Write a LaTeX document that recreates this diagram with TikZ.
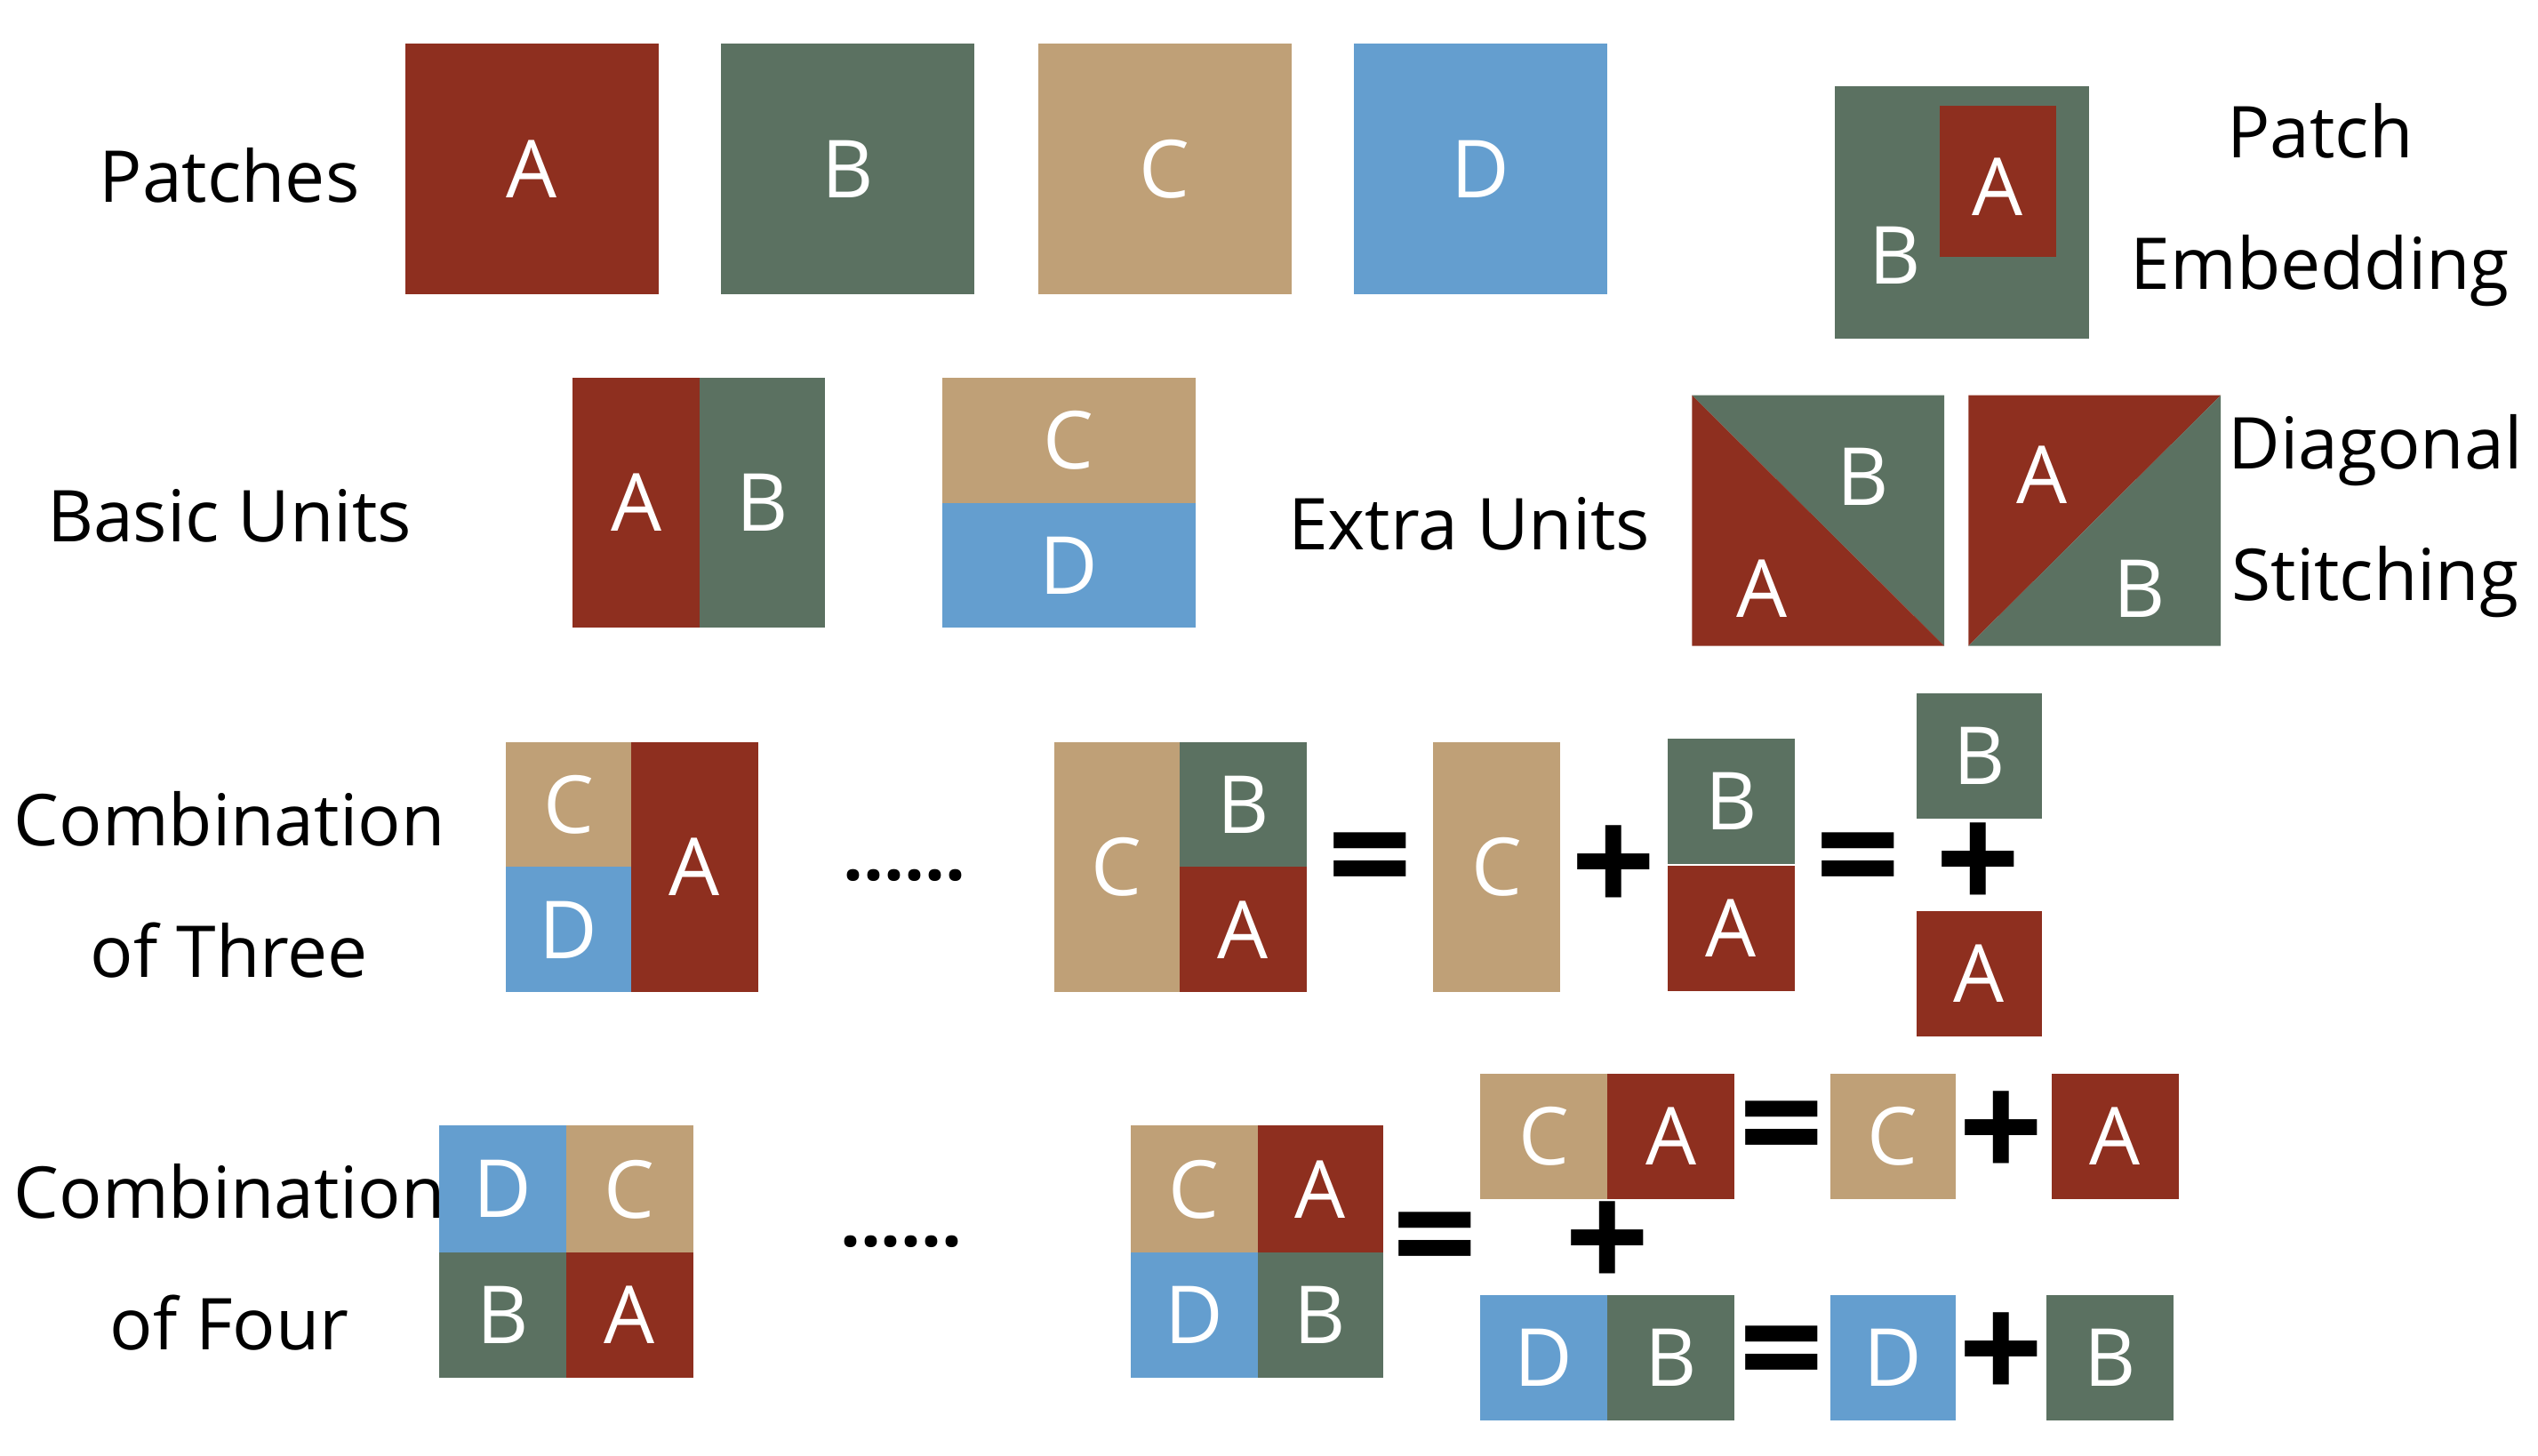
\documentclass[tikz,border=0pt]{standalone}
\usepackage{fontspec}
\setmainfont{Open Sans}
\definecolor{cA}{HTML}{8E2F1F}
\definecolor{cB}{HTML}{5B7161}
\definecolor{cC}{HTML}{BFA077}
\definecolor{cD}{HTML}{649ECF}
\tikzset{lbl/.style={text=white,font=\fontsize{14}{16}\selectfont,inner sep=0pt},
 txt/.style={font=\fontsize{12.5}{15}\selectfont,inner sep=0pt,align=center},
 op/.style={font=\fontsize{26}{28}\bfseries\selectfont,inner sep=0pt}}
\newcommand{\bx}[6]{\fill[#5] (#1,#2) rectangle (#3,#4) node[midway,lbl]{#6};}
\begin{document}
\begin{tikzpicture}[x=0.01cm,y=-0.01cm]
\useasboundingbox (0,0) rectangle (1560,894.5);
% row 1
\node[txt] (p) at (141,108) {Patches};
\bx{249}{27}{405}{181}{cA}{A}
\bx{443}{27}{599}{181}{cB}{B}
\bx{638}{27}{794}{181}{cC}{C}
\bx{832}{27}{988}{181}{cD}{D}
\fill[cB] (1128,53) rectangle (1284,208);
\fill[cA] (1192,65) rectangle (1264,158);
\node[lbl] at (1228,115) {A};
\node[lbl] at (1165,157) {B};
\node[txt] (pe) at (1426,126) {Patch\\[8pt]Embedding};
% row 2
\node[txt] (bu) at (141,317) {Basic Units};
\bx{352}{232}{430}{386}{cA}{A}
\bx{430}{232}{507}{386}{cB}{B}
\bx{579}{232}{735}{309}{cC}{C}
\bx{579}{309}{735}{386}{cD}{D}
\node[txt] (eu) at (903,322) {Extra Units};
\fill[cB] (1040,243) -- (1195,243) -- (1195,397) -- cycle;
\fill[cA] (1040,243) -- (1195,397) -- (1040,397) -- cycle;
\node[lbl] at (1145,293) {B};
\node[lbl] at (1083,362) {A};
\fill[cA] (1210,243) -- (1365,243) -- (1210,397) -- cycle;
\fill[cB] (1365,243) -- (1365,397) -- (1210,397) -- cycle;
\node[lbl] at (1255,292) {A};
\node[lbl] at (1315,362) {B};
\node[txt] (ds) at (1460,317) {Diagonal\\[8pt]Stitching};
% row 3
\node[txt] (c3) at (141,544) {Combination\\[8pt]of Three};
\bx{311}{456}{388}{533}{cC}{C}
\bx{311}{533}{388}{610}{cD}{D}
\bx{388}{456}{466}{610}{cA}{A}
\node[txt] (d1) at (556,538) {\textbf{......}};
\bx{648}{456}{725}{610}{cC}{C}
\bx{725}{456}{803}{533}{cB}{B}
\bx{725}{533}{803}{610}{cA}{A}
\node[op] at (842,535) {=};
\bx{881}{456}{959}{610}{cC}{C}
\node[op] at (992,535) {+};
\bx{1025}{454}{1103}{531}{cB}{B}
\bx{1025}{532}{1103}{609}{cA}{A}
\node[op] at (1142,535) {=};
\bx{1178}{426}{1255}{503}{cB}{B}
\node[op] at (1216,533) {+};
\bx{1178}{560}{1255}{637}{cA}{A}
% row 4
\node[txt] (c4) at (141,773) {Combination\\[8pt]of Four};
\bx{270}{692}{348}{770}{cD}{D}
\bx{348}{692}{426}{770}{cC}{C}
\bx{270}{770}{348}{847}{cB}{B}
\bx{348}{770}{426}{847}{cA}{A}
\node[txt] (d2) at (554,763) {\textbf{......}};
\bx{695}{692}{773}{770}{cC}{C}
\bx{773}{692}{850}{770}{cA}{A}
\bx{695}{770}{773}{847}{cD}{D}
\bx{773}{770}{850}{847}{cB}{B}
\node[op] at (882,768) {=};
\bx{910}{660}{988}{737}{cC}{C}
\bx{988}{660}{1066}{737}{cA}{A}
\node[op] at (1095,700) {=};
\bx{1125}{660}{1202}{737}{cC}{C}
\node[op] at (1230,698) {+};
\bx{1261}{660}{1339}{737}{cA}{A}
\node[op] at (988,766) {+};
\bx{910}{796}{988}{873}{cD}{D}
\bx{988}{796}{1066}{873}{cB}{B}
\node[op] at (1095,838) {=};
\bx{1125}{796}{1202}{873}{cD}{D}
\node[op] at (1230,834) {+};
\bx{1258}{796}{1336}{873}{cB}{B}
\end{tikzpicture}
\end{document}
